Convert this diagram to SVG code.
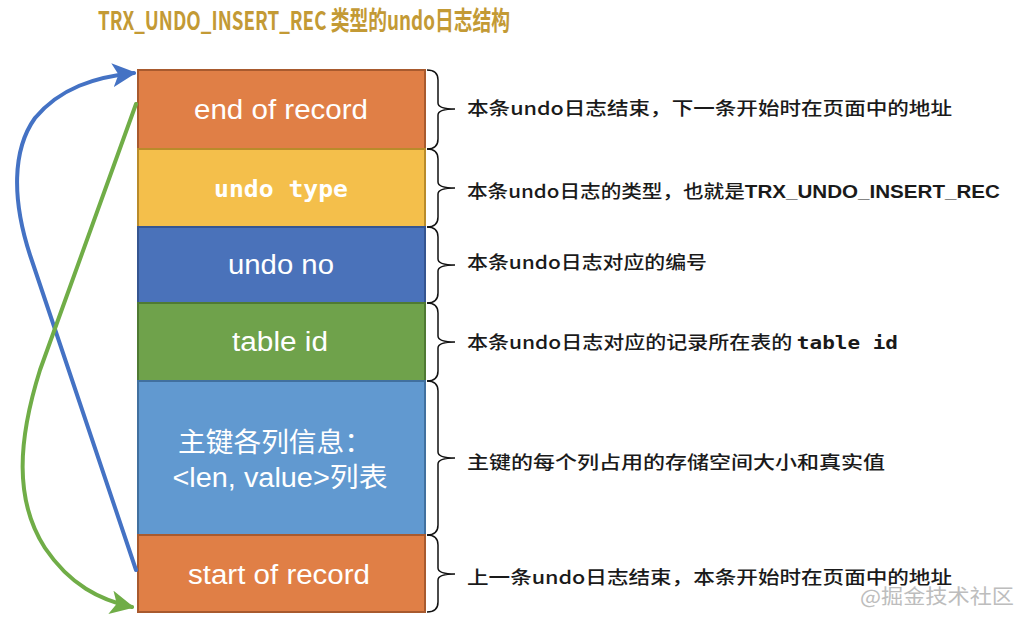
<svg xmlns="http://www.w3.org/2000/svg" width="1014" height="624" viewBox="0 0 1014 624">
<style>
.box{stroke-width:2}
.lbl{fill:#fff;font-family:"Liberation Sans","Noto Sans CJK SC",sans-serif;font-size:27px;text-anchor:middle}
.mono{fill:#fff;font-family:"DejaVu Sans Mono",monospace;font-size:23px;font-weight:700;text-anchor:middle}
.ann{fill:#1a1a1a;font-family:"Noto Sans CJK SC",sans-serif;font-size:18px;font-weight:500}
.brace{fill:none;stroke:#111;stroke-width:1.5}
.title{fill:#C39A35;font-family:"Noto Sans CJK SC",sans-serif;font-size:26px;font-weight:700}
</style>
<defs>
<marker id="ab" viewBox="0 0 10 10" refX="9" refY="5" markerWidth="6" markerHeight="6" orient="auto" markerUnits="strokeWidth"><path d="M0,0 L10,5 L0,10 L2.5,5 z" fill="#4472C4"/></marker>
<marker id="ag" viewBox="0 0 10 10" refX="9" refY="5" markerWidth="6" markerHeight="6" orient="auto" markerUnits="strokeWidth"><path d="M0,0 L10,5 L0,10 L2.5,5 z" fill="#70AD47"/></marker>
</defs>
<rect width="1014" height="624" fill="#fff"/>
<text class="title" x="98" y="30" textLength="412" lengthAdjust="spacingAndGlyphs">TRX_UNDO_INSERT_REC 类型的undo日志结构</text>

<g id="end-of-record">
<rect class="box" x="138" y="70" width="287" height="79" fill="#E07F46" stroke="#A85A2E"/>
<text class="lbl" x="281" y="119" textLength="174" lengthAdjust="spacingAndGlyphs">end of record</text>
<path class="brace" d="M427,70 Q438,70 438,80 L438,103 Q438,109 455,109 Q438,109 438,115 L438,139 Q438,149 427,149"/>
<text class="ann" x="467" y="115" textLength="485" lengthAdjust="spacingAndGlyphs">本条undo日志结束，下一条开始时在页面中的地址</text>
</g>
<g id="undo-type">
<rect class="box" x="138" y="149" width="287" height="78" fill="#F4BF4B" stroke="#B98B2A"/>
<text class="mono" x="281" y="197" textLength="134" lengthAdjust="spacingAndGlyphs">undo type</text>
<path class="brace" d="M427,149 Q438,149 438,159 L438,182 Q438,188 455,188 Q438,188 438,194 L438,217 Q438,227 427,227"/>
<text class="ann" x="467" y="198" textLength="533" lengthAdjust="spacingAndGlyphs">本条undo日志的类型，也就是<tspan font-family="Liberation Sans Narrow,Liberation Sans,sans-serif" font-weight="700">TRX_UNDO_INSERT_REC</tspan></text>
</g>
<g id="undo-no">
<rect class="box" x="138" y="227" width="287" height="76" fill="#4A72BA" stroke="#355590"/>
<text class="lbl" x="281" y="274" textLength="106" lengthAdjust="spacingAndGlyphs">undo no</text>
<path class="brace" d="M427,227 Q438,227 438,237 L438,259 Q438,265 455,265 Q438,265 438,271 L438,293 Q438,303 427,303"/>
<text class="ann" x="467" y="269" textLength="240" lengthAdjust="spacingAndGlyphs">本条undo日志对应的编号</text>
</g>
<g id="table-id">
<rect class="box" x="138" y="303" width="287" height="78" fill="#6FA24B" stroke="#4F7A33"/>
<text class="lbl" x="280" y="351" textLength="96" lengthAdjust="spacingAndGlyphs">table id</text>
<path class="brace" d="M427,303 Q438,303 438,313 L438,336 Q438,342 455,342 Q438,342 438,348 L438,371 Q438,381 427,381"/>
<text class="ann" x="467" y="349" textLength="431" lengthAdjust="spacingAndGlyphs">本条undo日志对应的记录所在表的 <tspan font-family="DejaVu Sans Mono,monospace" font-weight="700">table id</tspan></text>
</g>
<g id="pk-columns">
<rect class="box" x="138" y="381" width="287" height="154" fill="#6199D0" stroke="#41709F"/>
<text class="lbl" x="275" y="452" textLength="194" lengthAdjust="spacingAndGlyphs">主键各列信息：</text>
<text class="lbl" x="280" y="487" textLength="215" lengthAdjust="spacingAndGlyphs">&lt;len, value&gt;列表</text>
<path class="brace" d="M427,381 Q438,381 438,391 L438,452 Q438,458 455,458 Q438,458 438,464 L438,525 Q438,535 427,535"/>
<text class="ann" x="467" y="469" textLength="418" lengthAdjust="spacingAndGlyphs">主键的每个列占用的存储空间大小和真实值</text>
</g>
<g id="start-of-record">
<rect class="box" x="138" y="535" width="287" height="77" fill="#E07F46" stroke="#A85A2E"/>
<text class="lbl" x="279" y="584" textLength="182" lengthAdjust="spacingAndGlyphs">start of record</text>
<path class="brace" d="M427,535 Q438,535 438,545 L438,568 Q438,574 455,574 Q438,574 438,580 L438,602 Q438,612 427,612"/>
<text class="ann" x="467" y="584" textLength="485" lengthAdjust="spacingAndGlyphs">上一条undo日志结束，本条开始时在页面中的地址</text>
</g>

<g id="connectors" fill="none" stroke-width="4" stroke-linecap="round">
<path d="M136,570 L30,255 C12,200 12,150 35,118 C60,88 95,77 134,73" stroke="#4472C4" marker-end="url(#ab)"/>
<path d="M136,104 L40,370 C18,440 14,500 45,548 C70,585 100,600 132,607" stroke="#70AD47" marker-end="url(#ag)"/>
</g>

<text x="860" y="604" fill="#bdbdbd" font-family="Noto Sans CJK SC,sans-serif" font-size="20" textLength="154" lengthAdjust="spacingAndGlyphs">@掘金技术社区</text>
</svg>
